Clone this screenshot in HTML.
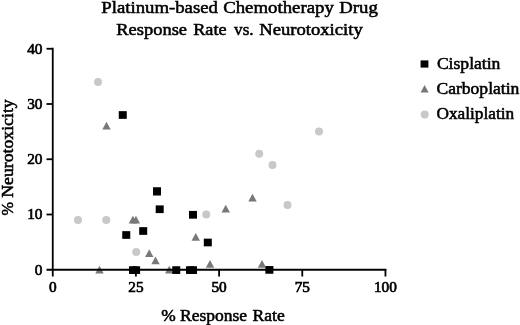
<!DOCTYPE html>
<html><head><meta charset="utf-8"><title>Platinum-based Chemotherapy Drug Response Rate vs. Neurotoxicity</title>
<style>html,body{margin:0;padding:0;background:#fff;overflow:hidden}svg{display:block}text{font-family:"Liberation Serif", "Times New Roman", serif;fill:#000;stroke:#000;stroke-width:0.55px}</style></head><body>
<svg width="520" height="325" viewBox="0 0 520 325">
<rect width="520" height="325" fill="#fff"/>
<text y="13.1" font-size="17.5"><tspan x="101.3" textLength="116.6" lengthAdjust="spacingAndGlyphs">Platinum-based</tspan> <tspan x="223.2" textLength="110.6" lengthAdjust="spacingAndGlyphs">Chemotherapy</tspan> <tspan x="339.3" textLength="38.5" lengthAdjust="spacingAndGlyphs">Drug</tspan></text>
<text y="35.3" font-size="17.5"><tspan x="116.3" textLength="70.7" lengthAdjust="spacingAndGlyphs">Response</tspan> <tspan x="193.2" textLength="33.4" lengthAdjust="spacingAndGlyphs">Rate</tspan> <tspan x="234.1" textLength="19.5" lengthAdjust="spacingAndGlyphs">vs.</tspan> <tspan x="259.3" textLength="103.4" lengthAdjust="spacingAndGlyphs">Neurotoxicity</tspan></text>
<circle cx="98" cy="82" r="4" fill="#c8c8c8"/>
<circle cx="78" cy="220" r="4" fill="#c8c8c8"/>
<circle cx="106.25" cy="220" r="4" fill="#c8c8c8"/>
<circle cx="136.25" cy="252" r="4" fill="#c8c8c8"/>
<circle cx="206.25" cy="214.5" r="4" fill="#c8c8c8"/>
<circle cx="259.25" cy="153.75" r="4" fill="#c8c8c8"/>
<circle cx="272.5" cy="165" r="4" fill="#c8c8c8"/>
<circle cx="287.5" cy="205" r="4" fill="#c8c8c8"/>
<circle cx="319" cy="131.5" r="4" fill="#c8c8c8"/>
<polygon points="157,188.1 161.2,196.0 152.8,196.0" fill="#787878"/>
<polygon points="106.5,121.65 110.7,129.55 102.3,129.55" fill="#787878"/>
<polygon points="132.9,215.65 137.1,223.55 128.70000000000002,223.55" fill="#787878"/>
<polygon points="135.9,215.65 140.1,223.55 131.70000000000002,223.55" fill="#787878"/>
<polygon points="149.25,249.15 153.45,257.05 145.05,257.05" fill="#787878"/>
<polygon points="155.5,256.4 159.7,264.3 151.3,264.3" fill="#787878"/>
<polygon points="99.5,265.65 103.7,273.55 95.3,273.55" fill="#787878"/>
<polygon points="169.25,265.65 173.45,273.55 165.05,273.55" fill="#787878"/>
<polygon points="195.75,232.9 199.95,240.8 191.55,240.8" fill="#787878"/>
<polygon points="210,259.9 214.2,267.8 205.8,267.8" fill="#787878"/>
<polygon points="252.5,193.65 256.7,201.55 248.3,201.55" fill="#787878"/>
<polygon points="225.75,204.65 229.95,212.55 221.55,212.55" fill="#787878"/>
<polygon points="262,259.9 266.2,267.8 257.8,267.8" fill="#787878"/>
<rect x="118.75" y="111.15" width="8" height="7.7" fill="#000"/>
<rect x="153.00" y="187.25" width="8" height="7.7" fill="#000"/>
<rect x="155.70" y="205.40" width="8" height="7.7" fill="#000"/>
<rect x="139.20" y="227.15" width="8" height="7.7" fill="#000"/>
<rect x="122.25" y="231.15" width="8" height="7.7" fill="#000"/>
<rect x="129.00" y="266.25" width="8" height="7.7" fill="#000"/>
<rect x="132.10" y="266.25" width="8" height="7.7" fill="#000"/>
<rect x="172.25" y="266.25" width="8" height="7.7" fill="#000"/>
<rect x="186.00" y="266.25" width="8" height="7.7" fill="#000"/>
<rect x="189.00" y="266.25" width="8" height="7.7" fill="#000"/>
<rect x="203.80" y="238.65" width="8" height="7.7" fill="#000"/>
<rect x="189.00" y="210.95" width="8" height="7.7" fill="#000"/>
<rect x="265.40" y="266.05" width="8" height="7.7" fill="#000"/>
<g stroke="#000" stroke-width="1.8" fill="none">
<path d="M52.75,47.85 V276.5 M46.5,269.75 H386.4"/>
<path d="M46.5,214.5 H52.75"/>
<path d="M46.5,159.25 H52.75"/>
<path d="M46.5,104.0 H52.75"/>
<path d="M46.5,48.75 H52.75"/>
<path d="M135.925,269.75 V276.5"/>
<path d="M219.1,269.75 V276.5"/>
<path d="M302.275,269.75 V276.5"/>
<path d="M385.45,269.75 V276.5"/>
</g>
<text x="42.5" y="274.65" font-size="15.3" text-anchor="end" style="stroke-width:0.68px">0</text>
<text x="42.5" y="219.4" font-size="15.3" text-anchor="end" style="stroke-width:0.68px">10</text>
<text x="42.5" y="164.15" font-size="15.3" text-anchor="end" style="stroke-width:0.68px">20</text>
<text x="42.5" y="108.9" font-size="15.3" text-anchor="end" style="stroke-width:0.68px">30</text>
<text x="42.5" y="53.65" font-size="15.3" text-anchor="end" style="stroke-width:0.68px">40</text>
<text x="52.75" y="291.5" font-size="15.3" text-anchor="middle" style="stroke-width:0.68px">0</text>
<text x="135.925" y="291.5" font-size="15.3" text-anchor="middle" style="stroke-width:0.68px">25</text>
<text x="219.1" y="291.5" font-size="15.3" text-anchor="middle" style="stroke-width:0.68px">50</text>
<text x="302.275" y="291.5" font-size="15.3" text-anchor="middle" style="stroke-width:0.68px">75</text>
<text x="385.45" y="291.5" font-size="15.3" text-anchor="middle" style="stroke-width:0.68px">100</text>
<text y="321.3" font-size="17.4"><tspan x="161.3" textLength="14.5" lengthAdjust="spacingAndGlyphs">%</tspan> <tspan x="180.0" textLength="67.1" lengthAdjust="spacingAndGlyphs">Response</tspan> <tspan x="252.6" textLength="32.2" lengthAdjust="spacingAndGlyphs">Rate</tspan></text>
<text y="0" font-size="17.4" transform="translate(13.2,215.6) rotate(-90)"><tspan x="0" textLength="13.5" lengthAdjust="spacingAndGlyphs">%</tspan> <tspan x="17.9" textLength="98.4" lengthAdjust="spacingAndGlyphs">Neurotoxicity</tspan></text>
<rect x="420.6" y="60.4" width="7.8" height="7.2" fill="#000"/>
<polygon points="424.6,85 428.6,92.5 420.6,92.5" fill="#787878"/>
<circle cx="424.7" cy="114.4" r="4" fill="#c8c8c8"/>
<text x="436.9" y="69" font-size="17" text-anchor="start" textLength="63.5" lengthAdjust="spacingAndGlyphs">Cisplatin</text>
<text x="436.5" y="94" font-size="17" text-anchor="start" textLength="82.8" lengthAdjust="spacingAndGlyphs">Carboplatin</text>
<text x="436.5" y="119.2" font-size="17" text-anchor="start" textLength="77.7" lengthAdjust="spacingAndGlyphs">Oxaliplatin</text>
</svg></body></html>
